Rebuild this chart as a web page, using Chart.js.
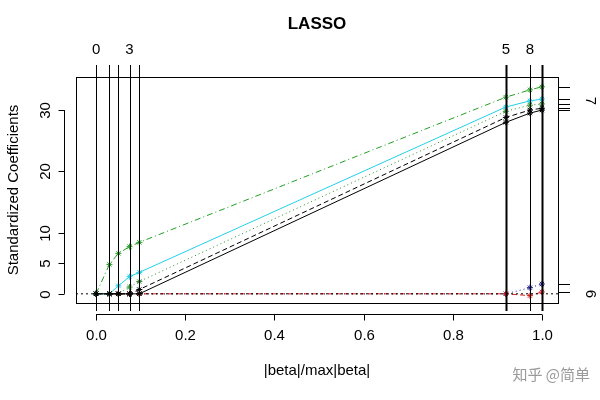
<!DOCTYPE html>
<html>
<head>
<script src="https://cdn.jsdelivr.net/npm/chart.js@4/dist/chart.umd.min.js"></script>
<style>body{margin:0;background:#fff}#wrap{width:600px;height:400px}</style>
</head>
<body>
<div id="wrap"><canvas id="c"></canvas></div>
<script>
// LARS steps along |beta|/max|beta|
const steps = [0, 0.03, 0.05, 0.075, 0.097, 0.919, 0.973, 1.0];
const stepLabels = ['0', '', '', '3', '', '5', '8', ''];
const thickSteps = [0.919, 1.0];
const xTicks = [0, 0.2, 0.4, 0.6, 0.8, 1.0];
const yTicks = [0, 5, 10, 20, 30];

const coefGreenDash = [0, 4.8, 6.6, 7.7, 8.4, 32.1, 33.3, 33.8];
const coefCyan = [0, 0, 1.3, 2.8, 3.5, 30.5, 31.5, 31.8];
const coefGreenDot = [0, 0, 0, 1.1, 2.0, 29.8, 30.8, 31.0];
const coefBlackDash = [0, 0, 0, 0, 0.7, 28.8, 30.0, 30.3];
const coefBlack = [0, 0, 0, 0, 0, 28.0, 29.5, 30.0];
const coefBlue = [0, 0, 0, 0, 0, 0, 1.0, 1.6];
const coefRed = [0, 0, 0, 0, 0, 0, -0.3, 0.3];
const rightLabels = [{ v: 31.5, t: '7' }, { v: 0, t: '6' }];

function pts(arr) { return arr.map((y, i) => ({ x: steps[i], y })); }
function series(arr, color, dash) {
    return {
        data: pts(arr), borderColor: color, backgroundColor: color, borderWidth: 1,
        borderDash: dash, pointStyle: 'star', pointRadius: 3, pointBorderWidth: 1, tension: 0
    };
}

const FONT = '"Liberation Sans", Arial, sans-serif';

const lassoDecor = {
    id: 'lassoDecor',
    afterDatasetsDraw(chart) {
        const { ctx, chartArea: a, scales: { x, y } } = chart;
        ctx.save();
        ctx.strokeStyle = '#000';
        ctx.fillStyle = '#000';
        // dotted zero line
        ctx.lineWidth = 1;
        ctx.setLineDash([2, 3]);
        ctx.beginPath(); ctx.moveTo(a.left, y.getPixelForValue(0)); ctx.lineTo(a.right, y.getPixelForValue(0)); ctx.stroke();
        ctx.setLineDash([]);
        // step lines
        steps.forEach((s, i) => {
            const px = Math.round(x.getPixelForValue(s)) + 0.5;
            ctx.lineWidth = thickSteps.includes(s) ? 2 : 1;
            ctx.beginPath(); ctx.moveTo(px, 65); ctx.lineTo(px, a.bottom + 8); ctx.stroke();
        });
        ctx.lineWidth = 1;
        ctx.font = '15px ' + FONT;
        ctx.textAlign = 'center';
        ctx.textBaseline = 'middle';
        steps.forEach((s, i) => { if (stepLabels[i]) ctx.fillText(stepLabels[i], x.getPixelForValue(s), 50); });
        // box
        ctx.strokeRect(a.left + 0.5, a.top + 0.5, a.right - a.left, a.bottom - a.top);
        // x axis
        const ay = a.bottom + 11.5;
        ctx.beginPath(); ctx.moveTo(x.getPixelForValue(0), ay); ctx.lineTo(x.getPixelForValue(1), ay); ctx.stroke();
        xTicks.forEach(t => {
            const px = Math.round(x.getPixelForValue(t)) + 0.5;
            ctx.beginPath(); ctx.moveTo(px, ay); ctx.lineTo(px, ay + 6); ctx.stroke();
            ctx.fillText(t.toFixed(1), px, ay + 21);
        });
        // y axis
        const ax = a.left - 11.5;
        ctx.beginPath(); ctx.moveTo(ax, y.getPixelForValue(0)); ctx.lineTo(ax, y.getPixelForValue(30)); ctx.stroke();
        yTicks.forEach(t => {
            const py = Math.round(y.getPixelForValue(t)) + 0.5;
            ctx.beginPath(); ctx.moveTo(ax, py); ctx.lineTo(ax - 6, py); ctx.stroke();
            ctx.save(); ctx.translate(ax - 19, py); ctx.rotate(-Math.PI / 2); ctx.fillText(String(t), 0, 0); ctx.restore();
        });
        // right-side final coefficient ticks
        chart.data.datasets.forEach(d => {
            const py = Math.round(y.getPixelForValue(d.data[d.data.length - 1].y)) + 0.5;
            ctx.beginPath(); ctx.moveTo(a.right, py); ctx.lineTo(a.right + 12, py); ctx.stroke();
        });
        rightLabels.forEach(r => {
            ctx.save(); ctx.translate(a.right + 32, y.getPixelForValue(r.v)); ctx.rotate(Math.PI / 2); ctx.fillText(r.t, 0, 0); ctx.restore();
        });
        // titles
        ctx.font = 'bold 17px ' + FONT;
        ctx.fillText('LASSO', (a.left + a.right) / 2, 24);
        ctx.font = '15px ' + FONT;
        ctx.fillText('|beta|/max|beta|', (a.left + a.right) / 2, 371);
        ctx.save(); ctx.translate(14, (a.top + a.bottom) / 2); ctx.rotate(-Math.PI / 2);
        ctx.fillText('Standardized Coefficients', 0, 0); ctx.restore();
        // watermark
        ctx.fillStyle = '#9a9a9a';
        ctx.font = '15px "Noto Sans CJK SC", sans-serif';
        ctx.textAlign = 'right';
        ctx.fillText('知乎 @简单', 590, 374);
        ctx.restore();
    }
};

new Chart(document.getElementById('c'), {
    type: 'line',
    data: {
        datasets: [
            series(coefBlack, '#000000', []),
            series(coefBlackDash, '#000000', [5, 3]),
            series(coefGreenDot, '#2a8a2a', [1, 3]),
            series(coefCyan, '#22d0e8', []),
            series(coefGreenDash, '#22a022', [6, 3, 1, 3]),
            series(coefRed, '#e02020', [5, 3]),
            series(coefBlue, '#1a1a90', [1, 3])
        ]
    },
    plugins: [lassoDecor],
    options: {
        responsive: true,
        maintainAspectRatio: false,
        animation: false,
        layout: { padding: { left: 76, right: 42, top: 77, bottom: 97 } },
        plugins: { legend: { display: false }, tooltip: { enabled: false } },
        scales: {
            x: { type: 'linear', min: -0.045, max: 1.036, display: false },
            y: { min: -1.5, max: 35.4, display: false }
        }
    }
});
</script>
</body>
</html>
